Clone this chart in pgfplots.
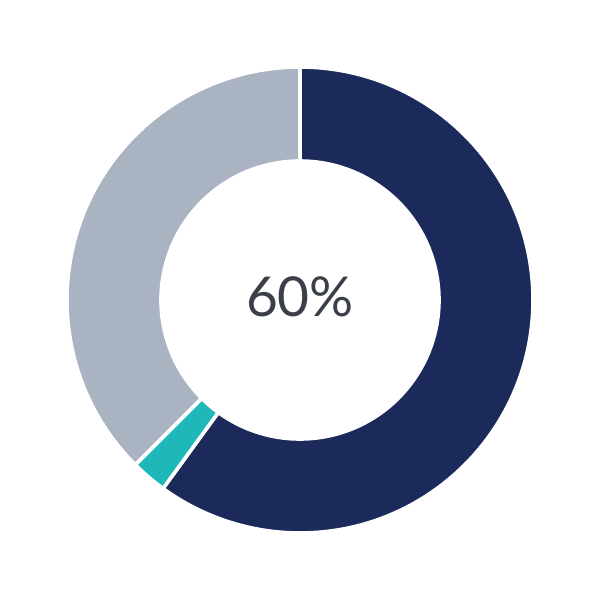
\documentclass[border=0pt]{standalone}
\usepackage{pgfplots}
\pgfplotsset{compat=1.18}
\usepackage{fontspec}
\setmainfont{Lato}
\definecolor{navy}{HTML}{1B2A5A}
\definecolor{teal}{HTML}{1EB8B8}
\definecolor{slate}{HTML}{A9B3C2}
\definecolor{txt}{HTML}{3B3F4A}
% values (percent): navy 60, teal 2.5, slate 37.5
\def\vA{60}\def\vB{2.5}\def\vC{37.5}
\begin{document}
\begin{tikzpicture}
\begin{axis}[hide axis, scale only axis, width=300pt, height=300pt,
  xmin=-300, xmax=300, ymin=-300, ymax=300, clip=false]
\fill[white] (axis cs:-300,-300) rectangle (axis cs:300,300);
\pgfmathsetmacro{\aA}{90}
\pgfmathsetmacro{\aB}{90-3.6*\vA}
\pgfmathsetmacro{\aC}{90-3.6*(\vA+\vB)}
\pgfmathsetmacro{\aD}{90-3.6*(\vA+\vB+\vC)}
\filldraw[fill=navy, draw=white, line width=1.8pt]
  (axis cs:{233*cos(\aA)},{233*sin(\aA)}) arc[start angle=\aA, end angle=\aB, radius=116.5pt]
  -- (axis cs:{139*cos(\aB)},{139*sin(\aB)}) arc[start angle=\aB, end angle=\aA, radius=69.5pt] -- cycle;
\filldraw[fill=teal, draw=white, line width=1.8pt]
  (axis cs:{233*cos(\aB)},{233*sin(\aB)}) arc[start angle=\aB, end angle=\aC, radius=116.5pt]
  -- (axis cs:{139*cos(\aC)},{139*sin(\aC)}) arc[start angle=\aC, end angle=\aB, radius=69.5pt] -- cycle;
\filldraw[fill=slate, draw=white, line width=1.8pt]
  (axis cs:{233*cos(\aC)},{233*sin(\aC)}) arc[start angle=\aC, end angle=\aD, radius=116.5pt]
  -- (axis cs:{139*cos(\aD)},{139*sin(\aD)}) arc[start angle=\aD, end angle=\aC, radius=69.5pt] -- cycle;
\node[text=txt, font=\fontsize{27.5pt}{33pt}\selectfont, inner sep=0pt] at (axis cs:0,3) {60\%};
\end{axis}
\end{tikzpicture}
\end{document}
